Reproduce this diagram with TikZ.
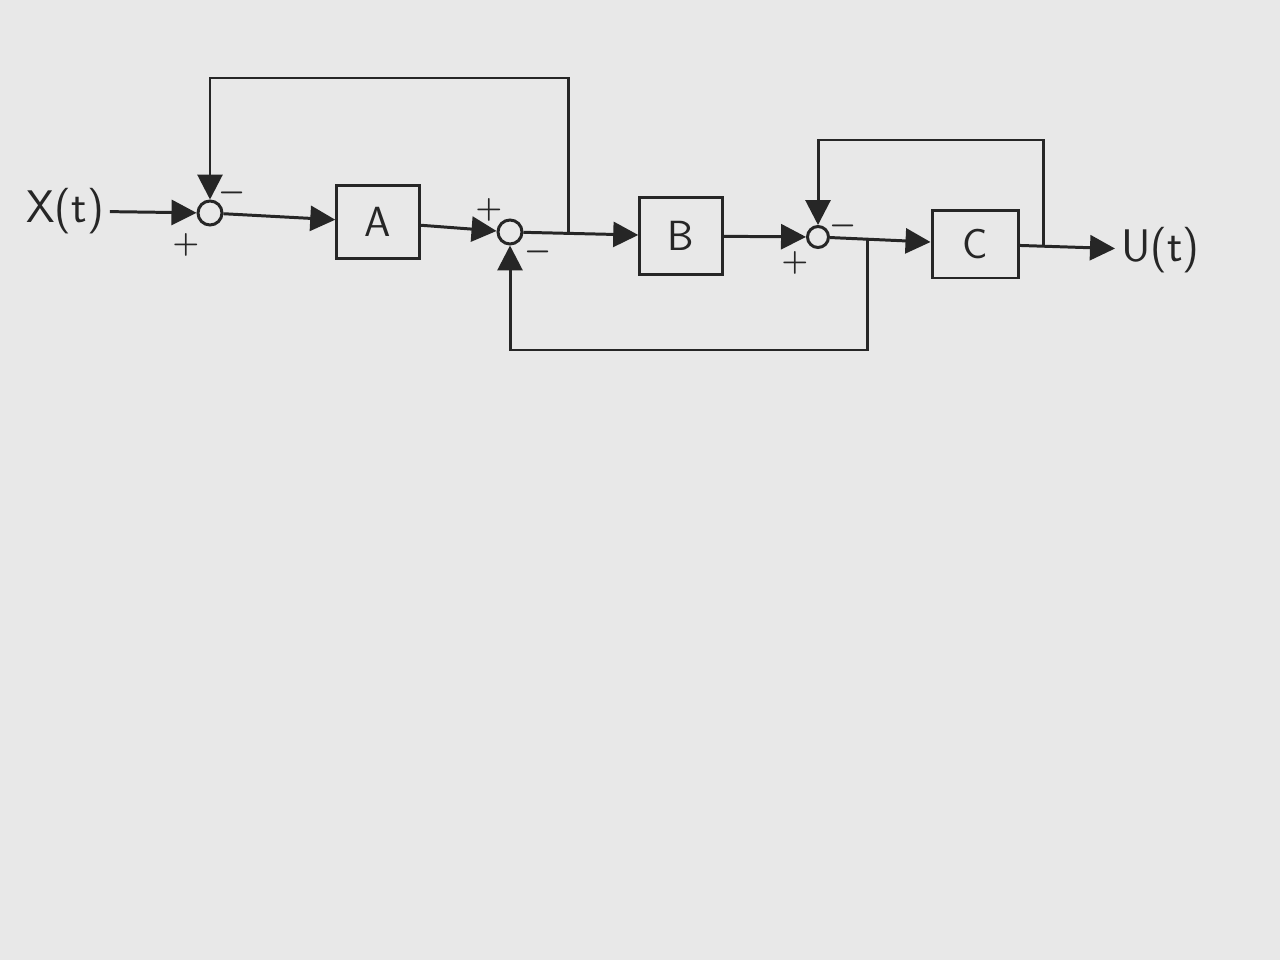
\documentclass[tikz,border=0pt]{standalone}
\usetikzlibrary{arrows.meta, positioning}

\tikzset{
  wire/.style={line width=1.7pt, draw=black!85},
  sig/.style={wire, -{Triangle[length=0.5cm, width=0.5cm]}},
  block/.style={wire, rectangle, minimum width=1.65cm, minimum height=1.45cm, font=\sffamily\fontsize{24}{28}\selectfont, text=black!85},
  sumpt/.style={wire, circle, minimum size=0.48cm, inner sep=0pt},
  sign/.style={font=\fontsize{18}{20}\selectfont\boldmath, text=black!85},
  lbl/.style={font=\sffamily\fontsize{26}{30}\selectfont, text=black!85},
}

\begin{document}
\begin{tikzpicture}[x=0.02cm, y=-0.02cm]
	\fill[black!9] (0,0) rectangle (1280,960);
	\useasboundingbox (0,0) rectangle (1280,960);

	% forward path
	\begin{scope}
		\node[lbl] (xin) at (65,211) {X(t)};
		\node[sumpt] (s1) at (210,213) {};
		\node[block] (A) at (378,222) {A};
		\node[sumpt] (s2) at (510,232) {};
		\node[block, minimum height=1.55cm] (B) at (681,236) {B};
		\node[sumpt, minimum size=0.42cm] (s3) at (818,237) {};
		\node[block, minimum width=1.72cm, minimum height=1.36cm] (C) at (975,244) {C};
		\node[lbl, anchor=west] (uout) at (1115,250) {U(t)};

		\draw[sig] (xin) -- (s1);
		\draw[sig] (s1) -- (A);
		\draw[sig] (A) -- (s2);
		\draw[sig] (s2) -- coordinate[pos=0.39] (f1) (B);
		\draw[sig] (B) -- (s3);
		\draw[sig] (s3) -- coordinate[pos=0.37] (f2) (C);
		\draw[sig] (C) -- coordinate[pos=0.25] (f3) (uout);
	\end{scope}

	% feedback loops
	\begin{scope}
		\coordinate (top1) at (0,78);
		\coordinate (bot2) at (0,350);
		\coordinate (top3) at (0,140);

		\draw[sig] (f1) -- (f1 |- top1) -| (s1.north);
		\draw[sig] (f2) -- (f2 |- bot2) -| (s2.south);
		\draw[sig] (f3) -- (f3 |- top3) -| (s3.north);
	\end{scope}

	% signs
	\foreach \s/\dx/\dy/\t in {s1/22/-20/-, s1/-24/32/+, s2/-21/-22/+, s2/28/20/-, s3/25/-11/-, s3/-23/26/+}
	{
		\node[sign] at ([shift={(\dx,\dy)}]\s) {$\t$};
	}
\end{tikzpicture}
\end{document}
